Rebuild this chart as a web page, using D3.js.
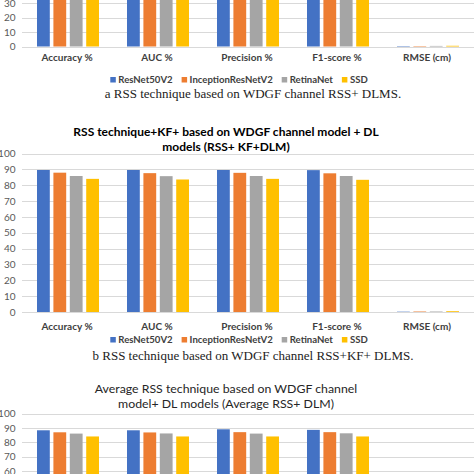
<!DOCTYPE html>
<html lang="en">
<head>
  <meta charset="UTF-8">
  <title>RSS + DL models</title>
  <script src="https://d3js.org/d3.v7.min.js"></script>
  <style>
    body { margin: 0; background: #fff; }
    svg { display: block; background: #fff; }
    .tick-label { font-family: Lato, "Open Sans", sans-serif; font-size: 10px; fill: #595959; }
    .cat-label { font-family: Lato, sans-serif; font-size: 10px; font-weight: bold; fill: #404040; }
    .legend-label { font-family: Lato, sans-serif; font-size: 9.6px; font-weight: bold; fill: #404040; }
    .caption { font-family: "Liberation Serif", serif; font-size: 13px; fill: #222; }
  </style>
</head>
<body>
  <div id="chart"></div>

  <script>
    const categories = ["Accuracy %", "AUC %", "Precision %", "F1-score %", "RMSE (cm)"];
    const seriesNames = ["ResNet50V2", "InceptionResNetV2", "RetinaNet", "SSD"];
    const colors = ["#4472C4", "#ED7D31", "#A5A5A5", "#FFC000"];
    const yTicks = [0, 10, 20, 30, 40, 50, 60, 70, 80, 90, 100];

    // (a) RSS + DLMS  (tops are cut off in the picture)
    const rssResNet    = [87.0, 87.0, 87.0, 87.0, 0.3];
    const rssInception = [85.5, 85.5, 85.5, 85.5, 0.3];
    const rssRetina    = [84.0, 84.0, 84.0, 84.0, 0.4];
    const rssSsd       = [82.5, 82.5, 82.5, 82.5, 0.5];

    // (b) RSS + KF + DLMS
    const kfResNet    = [89.6, 89.6, 89.6, 89.5, 0.2];
    const kfInception = [87.9, 87.6, 87.8, 87.5, 0.3];
    const kfRetina    = [85.8, 85.7, 85.8, 85.8, 0.3];
    const kfSsd       = [84.0, 83.6, 84.0, 83.4, 0.5];

    // (c) Average RSS + DLM
    const avgResNet    = [88.3, 88.3, 89.0, 88.6, 0.2];
    const avgInception = [86.9, 86.8, 87.0, 87.0, 0.3];
    const avgRetina    = [86.0, 86.1, 86.0, 86.2, 0.3];
    const avgSsd       = [84.0, 84.0, 84.0, 84.0, 0.5];

    const W = 474, H = 474;

    const svg = d3.select("#chart")
      .append("svg")
      .attr("width", W)
      .attr("height", H);

    const charts = [
      {
        values: [rssResNet, rssInception, rssRetina, rssSsd],
        yZero: 46.5, yHundred: -98.5,
        title: [], titleBold: false, titleY: [],
        catY: 60.5, legendY: 80, captionY: 97.5,
        caption: "a RSS technique based on WDGF channel RSS+ DLMS."
      },
      {
        values: [kfResNet, kfInception, kfRetina, kfSsd],
        yZero: 312, yHundred: 153.5,
        title: ["RSS technique+KF+ based on WDGF channel model + DL", "models (RSS+ KF+DLM)"],
        titleBold: true, titleY: [136, 150.5],
        catY: 329.5, legendY: 340, captionY: 359.5,
        caption: "b RSS technique based on WDGF channel RSS+KF+ DLMS."
      },
      {
        values: [avgResNet, avgInception, avgRetina, avgSsd],
        yZero: 557, yHundred: 413.5,
        title: ["Average RSS technique based on WDGF channel", "model+ DL models (Average RSS+ DLM)"],
        titleBold: false, titleY: [392.5, 407.5],
        catY: 572, legendY: 586, captionY: 605,
        caption: "c Average RSS technique based on WDGF channel Average RSS+ DLMS."
      }
    ];

    const visible = yPix => yPix > -4 && yPix < H + 4;

    const x0 = d3.scaleBand()
      .domain(categories)
      .range([22, 472]);

    const x1 = d3.scaleBand()
      .domain(seriesNames)
      .range([15, 77])
      .paddingInner(0.22);

    charts.forEach(c => {
      const g = svg.append("g");

      const y = d3.scaleLinear()
        .domain([0, 100])
        .range([c.yZero, c.yHundred]);

      // gridlines
      g.selectAll(".grid")
        .data(yTicks)
        .enter()
        .append("line")
        .attr("x1", 22)
        .attr("x2", 474)
        .attr("y1", d => Math.round(y(d)) + 0.5)
        .attr("y2", d => Math.round(y(d)) + 0.5)
        .attr("stroke", "#d9d9d9")
        .attr("stroke-width", 1);

      // y axis labels (only the ones inside the picture)
      const yAxis = d3.axisLeft(y)
        .tickValues(yTicks.filter(t => visible(y(t))))
        .tickSize(0)
        .tickPadding(0);
      const ya = g.append("g")
        .attr("transform", "translate(15.5,0)")
        .call(yAxis);
      ya.select(".domain").remove();
      ya.selectAll("text").attr("class", "tick-label").attr("fill", null);

      // bars
      const rows = c.values.flatMap((vals, si) =>
        vals.map((v, ci) => ({ cat: categories[ci], series: seriesNames[si], si, v })));

      g.selectAll(".bar")
        .data(rows)
        .enter()
        .append("rect")
        .attr("x", d => x0(d.cat) + x1(d.series))
        .attr("y", d => y(d.v))
        .attr("width", x1.bandwidth())
        .attr("height", d => y(0) - y(d.v))
        .attr("fill", d => colors[d.si]);

      if (visible(c.catY)) {
        const xAxis = d3.axisBottom(x0).tickSize(0).tickPadding(0);
        const xa = g.append("g")
          .attr("transform", `translate(0,${c.catY})`)
          .call(xAxis);
        xa.select(".domain").remove();
        xa.selectAll("text").attr("class", "cat-label").attr("fill", null).attr("dy", 0);
      }

      // title
      g.selectAll(".title")
        .data(c.title)
        .enter()
        .append("text")
        .attr("x", 226)
        .attr("y", (d, i) => c.titleY[i])
        .attr("text-anchor", "middle")
        .attr("font-family", "Lato, sans-serif")
        .attr("font-size", c.titleBold ? 12 : 12.3)
        .attr("font-weight", c.titleBold ? "bold" : "normal")
        .attr("fill", c.titleBold ? "#000" : "#262626")
        .text(d => d);

      if (visible(c.legendY)) {
        const leg = g.append("g").attr("transform", `translate(0,${c.legendY})`);
        const items = leg.selectAll(".item")
          .data(seriesNames)
          .enter()
          .append("g");
        items.append("rect")
          .attr("y", -3)
          .attr("width", 5.5)
          .attr("height", 5.5)
          .attr("fill", (d, i) => colors[i]);
        items.append("text")
          .attr("class", "legend-label")
          .attr("x", 8)
          .attr("dy", "0.35em")
          .text(d => d);
        const widths = [];
        items.each(function () {
          widths.push(8 + d3.select(this).select("text").node().getComputedTextLength());
        });
        const gap = 9;
        const total = d3.sum(widths) + gap * (widths.length - 1);
        let cx = 239 - total / 2;
        items.attr("transform", (d, i) => {
          const t = `translate(${cx},0)`;
          cx += widths[i] + gap;
          return t;
        });
      }

      if (visible(c.captionY)) {
        g.append("text")
          .attr("class", "caption")
          .attr("x", 253)
          .attr("y", c.captionY)
          .attr("text-anchor", "middle")
          .text(c.caption);
      }
    });
  </script>
</body>
</html>
